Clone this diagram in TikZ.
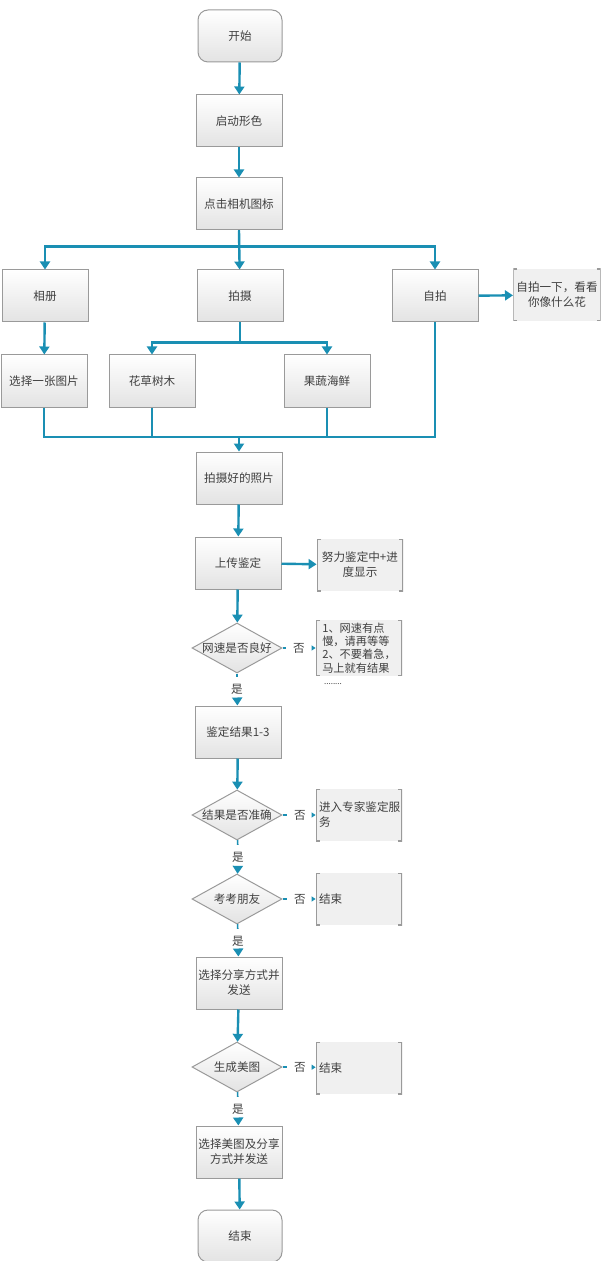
\documentclass[tikz,border=0pt]{standalone}
\usepackage{fontspec}
\setmainfont{Noto Sans CJK SC}
\usetikzlibrary{calc,shapes.geometric,arrows.meta}
\definecolor{flowline}{HTML}{1A8FB3}
\definecolor{boxline}{HTML}{9A9A9A}
\begin{document}
\begin{tikzpicture}[x=0.5pt, y=-0.5pt, >={Triangle[width=5pt,length=4pt]},
  every node/.style={font=\fontsize{5.8}{7.5}\selectfont, text=black!75},
  stepbox/.style={draw=boxline, line width=0.5pt, top color=white, bottom color=gray!22,
    minimum width=43pt, minimum height=26pt, inner sep=1pt},
  endbox/.style={stepbox, rounded corners=5pt, minimum width=42pt},
  askbox/.style={diamond, aspect=1.8, draw=boxline, line width=0.5pt, top color=white,
    bottom color=gray!22, minimum width=45pt, minimum height=25pt, inner sep=0pt},
  notebox/.style={fill=gray!12, minimum width=43pt, minimum height=26pt, inner sep=1.5pt,
    path picture={
      \draw[boxline, line width=1pt] ($(path picture bounding box.north west)+(4,0)$) -| (path picture bounding box.south west) -- ++(4,0);
      \draw[boxline, line width=1pt] ($(path picture bounding box.north east)+(-4,0)$) -| (path picture bounding box.south east) -- ++(-4,0);}},
  flow/.style={flowline, line width=1.2pt},
  sideflow/.style={flowline, line width=0.6pt, dashed}]

\useasboundingbox (0,0) rectangle (600,1261);

% main column
\node [endbox] (start) at (240,36) {开始};
\node [stepbox] (launch) at (239,121) {启动形色};
\node [stepbox] (camera) at (239,204) {点击相机图标};

% three ways
\node [stepbox] (album) at (45,296) {相册};
\node [stepbox] (shoot) at (240,296) {拍摄};
\node [stepbox] (selfie) at (435,296) {自拍};
\node [notebox, align=center] (selfie-note) at (557,295) {自拍一下，看看\\你像什么花};
\node [stepbox] (pick) at (44,381) {选择一张图片};
\node [stepbox] (plant) at (152,381) {花草树木};
\node [stepbox] (fruit) at (327,381) {果蔬海鲜};

\node [stepbox] (photo) at (239,478) {拍摄好的照片};
\node [stepbox] (upload) at (238,563) {上传鉴定};
\node [notebox, align=center] (upload-note) at (360,565) {努力鉴定中+进\\度显示};

% checks
\node [askbox] (net) at (237,648) {网速是否良好};
\node (net-no) at (299,648) {否};
\node [notebox, align=left, font=\fontsize{5.6}{6.6}\selectfont] (net-note) at (359,648) {1、网速有点\\慢，请再等等\\2、不要着急，\\马上就有结果};
\node [font=\fontsize{4}{4}\selectfont, inner sep=0pt] (net-dots) at (333,684) {........};
\node (net-yes) at (237,689) {是};
\node [stepbox] (result) at (238,732) {鉴定结果1-3};

\node [askbox] (right) at (237,815) {结果是否准确};
\node (right-no) at (300,815) {否};
\node [notebox, align=left, text width=40pt] (right-note) at (359,815) {进入专家鉴定服\\务};
\node (right-yes) at (238,857) {是};

\node [askbox] (quiz) at (237,899) {考考朋友};
\node (quiz-no) at (300,899) {否};
\node [notebox, align=left, text width=40pt] (quiz-note) at (359,899) {结束};
\node (quiz-yes) at (238,941) {是};
\node [stepbox, align=center] (share) at (239,983) {选择分享方式并\\发送};

\node [askbox] (pretty) at (237,1067) {生成美图};
\node (pretty-no) at (300,1067) {否};
\node [notebox, align=left, text width=40pt] (pretty-note) at (359,1068) {结束};
\node (pretty-yes) at (238,1109) {是};
\node [stepbox, align=center] (share2) at (239,1152) {选择美图及分享\\方式并发送};
\node [endbox] (stop) at (240,1236) {结束};

% connectors
\draw [flow,->] (start) -- (launch);
\draw [flow,->] (launch) -- (camera);
\draw [flow,->] (camera.south) |- ++(0,16) -| (album);
\draw [flow,->] (camera.south) -- (shoot);
\draw [flow,->] (camera.south) |- ++(0,16) -| (selfie);
\draw [flow,->] (selfie) -- (selfie-note);
\draw [flow,->] (album) -- (pick);
\draw [flow,->] (shoot.south) |- ++(0,20) -| (plant);
\draw [flow,->] (shoot.south) |- ++(0,20) -| (fruit);

\coordinate (merge) at (239,437);
\draw [flow] (pick) |- (merge);
\draw [flow] (plant) |- (merge);
\draw [flow] (fruit) |- (merge);
\draw [flow] (selfie) |- (merge);
\draw [flow,->] (merge) -- (photo);
\draw [flow,->] (photo) -- (upload);
\draw [flow,->] (upload) -- (upload-note);
\draw [flow,->] (upload) -- (net);

\foreach \q/\r in {net/result, right/quiz, quiz/share, pretty/share2} {
  \draw [flow, line width=0.8pt] (\q) -- (\q-yes);
  \draw [flow,->] (\q-yes) -- (\r);
  \draw [sideflow] (\q) -- (\q-no);
  \draw [sideflow,-{Triangle[width=2.5pt,length=2pt]}] (\q-no) -- (\q-note);
}
\draw [flow,->] (result) -- (right);
\draw [flow,->] (share) -- (pretty);
\draw [flow,->] (share2) -- (stop);

\end{tikzpicture}
\end{document}
